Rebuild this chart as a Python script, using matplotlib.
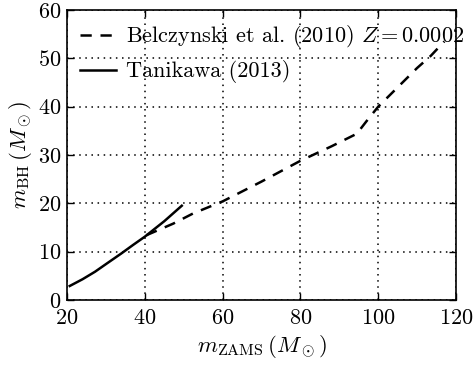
import matplotlib
matplotlib.use("Agg")
import matplotlib.pyplot as plt

# Belczynski et al. (2010), Z = 0.0002
bel_zams = [40.4, 47.3, 52.4, 60, 70, 80, 88, 94.5, 97, 100, 105, 110, 113.5, 117]
bel_bh = [13.4, 15.8, 17.9, 20.4, 24.5, 28.8, 31.8, 34.4, 37.0, 40.0, 44.0, 48.0, 50.5, 53.5]

# Tanikawa (2013)
tan_zams = [20.7, 24, 27.2, 30.5, 34, 37, 40, 45, 49.5]
tan_bh = [2.9, 4.3, 5.85, 7.7, 9.65, 11.4, 13.1, 16.3, 19.5]

plt.rcParams['mathtext.fontset'] = 'cm'
plt.rcParams['font.family'] = 'serif'
plt.rcParams['font.serif'] = ['cmr10', 'DejaVu Serif']
plt.rcParams['axes.formatter.use_mathtext'] = True

fig = plt.figure(figsize=(4.74, 3.85), dpi=100)
ax = fig.add_axes([0.1414, 0.2208, 0.8206, 0.7532])

ax.plot(bel_zams, bel_bh, '--', c='black', lw=1.8, dashes=(4.5, 3.5),
        label=r'Belczynski et al. (2010) $Z = 0.0002$')
ax.plot(tan_zams, tan_bh, '-', c='black', lw=1.8, label='Tanikawa (2013)')

ax.set_xlim(20, 120)
ax.set_ylim(0, 60)
ax.set_xticks([20, 40, 60, 80, 100, 120])
ax.set_yticks([0, 10, 20, 30, 40, 50, 60])
ax.grid(True, color='black', linestyle=(0, (1, 3)), linewidth=1.1)
ax.tick_params(axis='both', direction='in', top=True, right=True,
               labelsize=16, length=5, width=1)
ax.tick_params(axis='x', pad=6)
ax.tick_params(axis='y', pad=4)
for s in ax.spines.values():
    s.set_linewidth(1.2)

ax.set_xlabel(r'$m_{\rm ZAMS}\,(M_\odot)$', fontsize=16.5, labelpad=4)
ax.set_ylabel(r'$m_{\rm BH}\,(M_\odot)$', fontsize=16.5, labelpad=3)

ax.legend(loc='upper left', frameon=False, fontsize=16, handlelength=1.6,
          borderaxespad=0.2, labelspacing=0.45, handletextpad=0.45,
          borderpad=0.4)

fig.savefig('out.png', dpi=100)
